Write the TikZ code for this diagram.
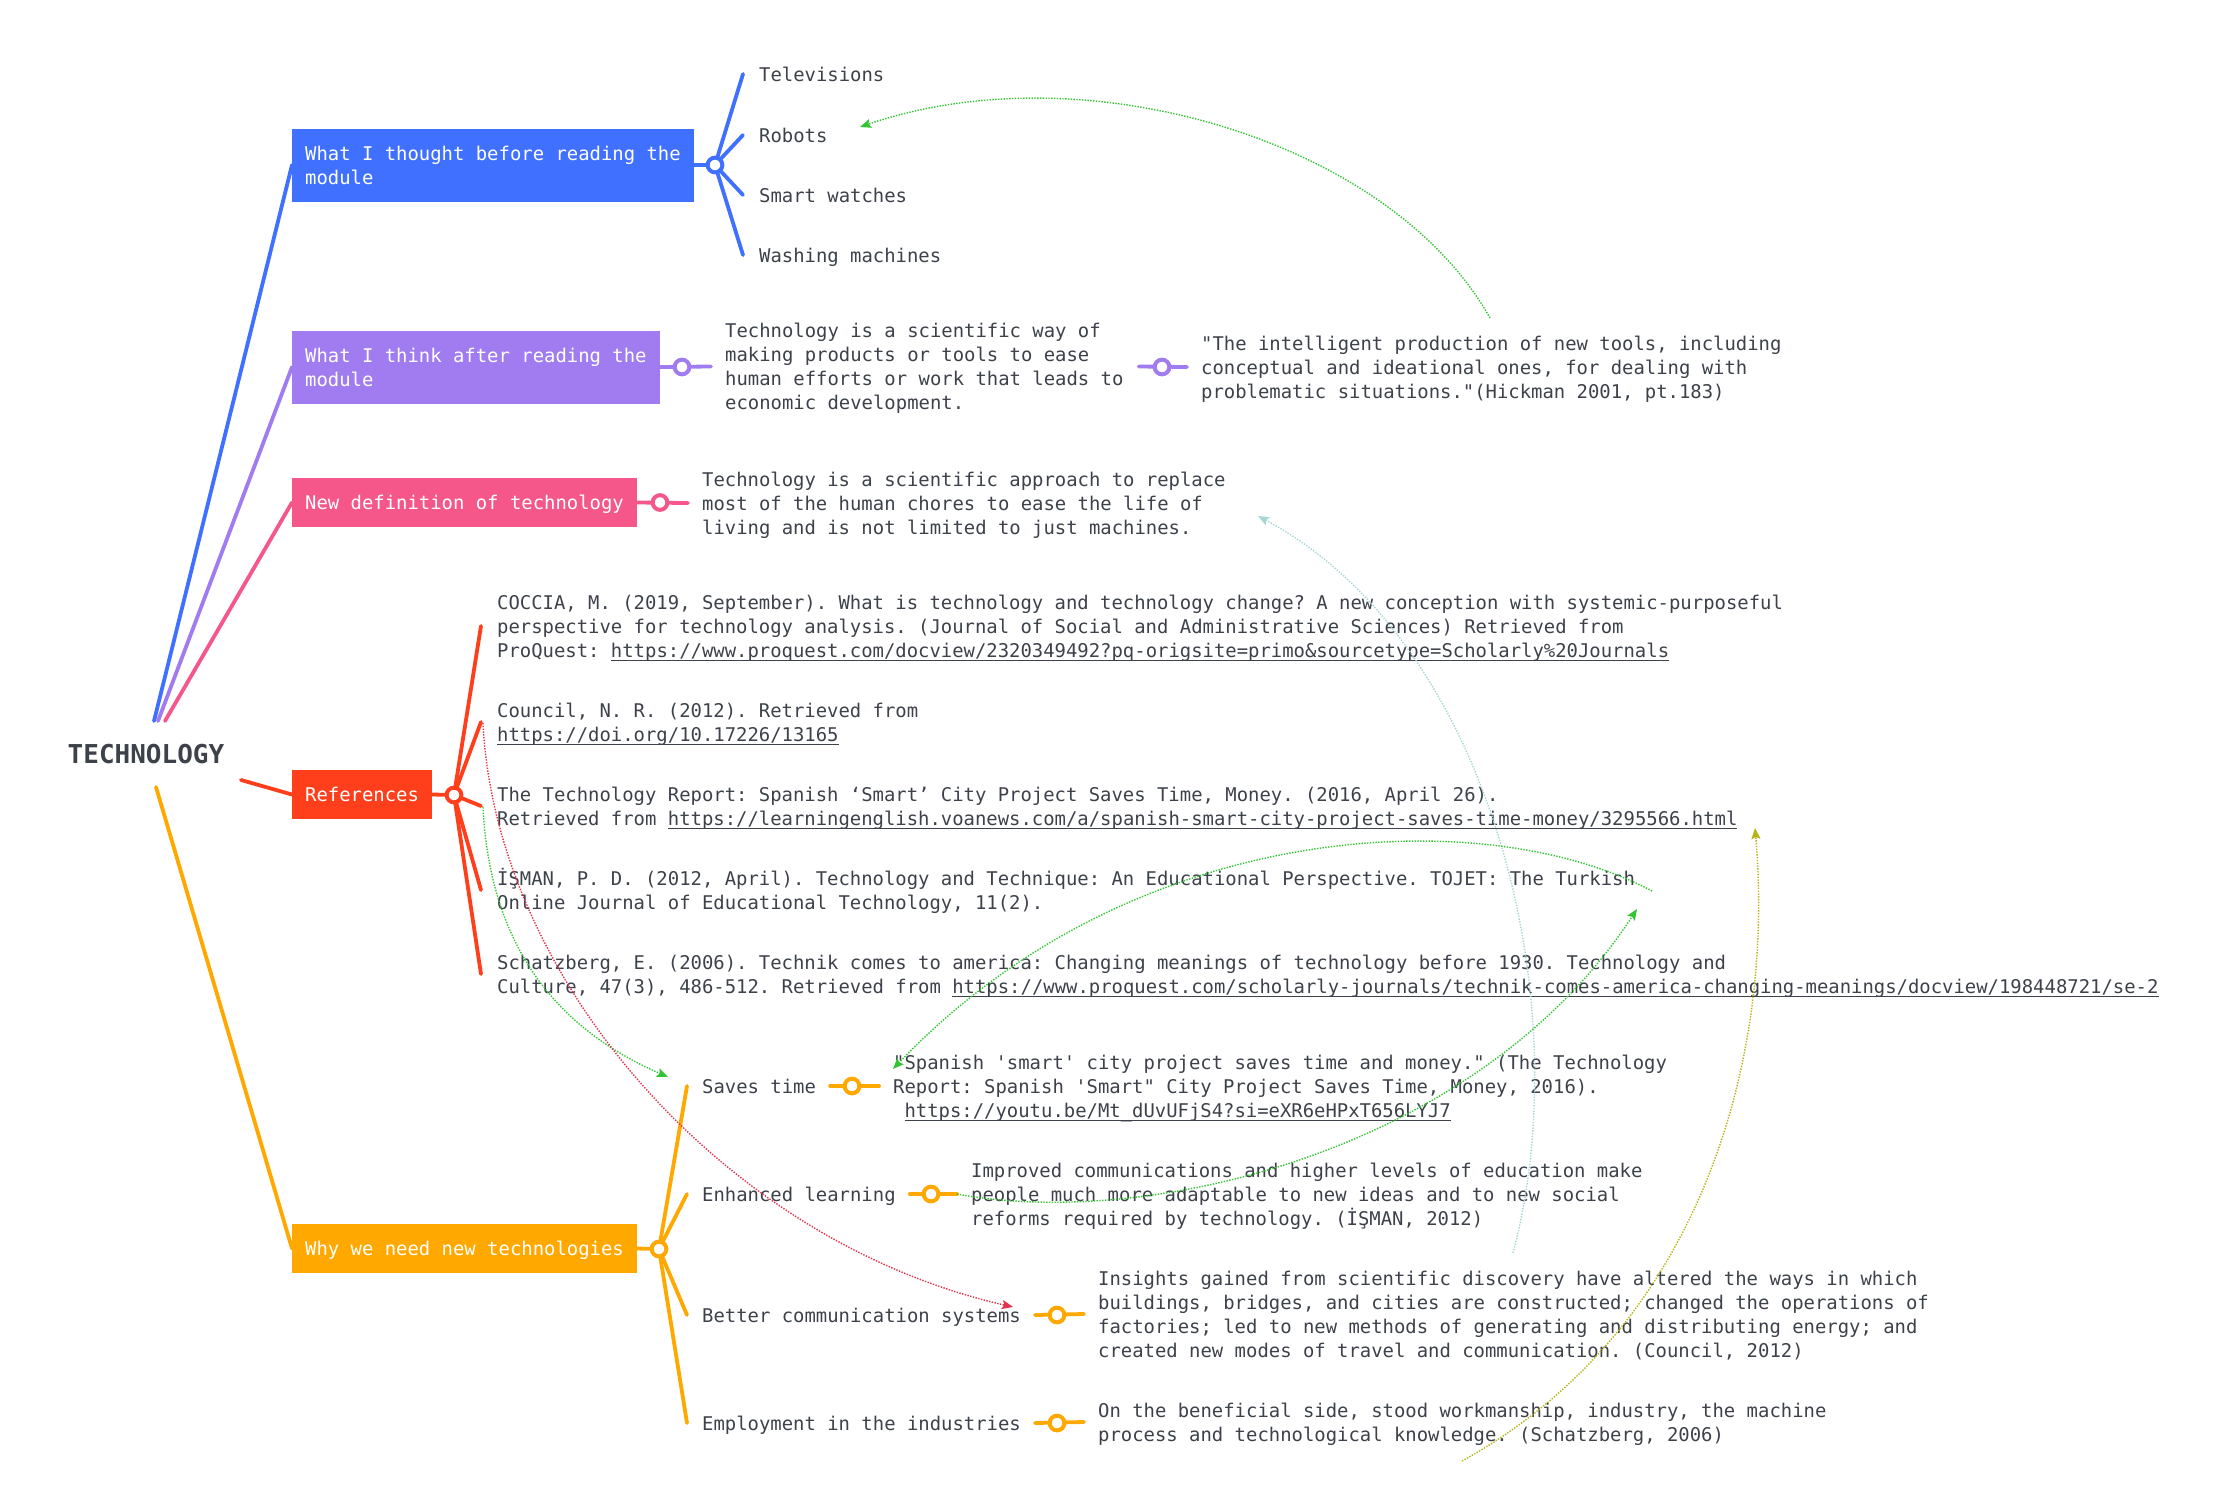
\documentclass[tikz,border=0pt]{standalone}
\usepackage{fontspec}
\newfontfamily\monof{DejaVu Sans Mono}
\usetikzlibrary{arrows.meta}
\definecolor{textc}{HTML}{3D424A}
\definecolor{cblue}{HTML}{4070FF}
\definecolor{cpurple}{HTML}{A07CF0}
\definecolor{cpink}{HTML}{F5578A}
\definecolor{cred}{HTML}{FF3F1C}
\definecolor{corange}{HTML}{FFA800}
\definecolor{cgreen}{HTML}{33C433}
\definecolor{cteal}{HTML}{A8D6D6}
\definecolor{crel}{HTML}{E2324C}
\definecolor{colive}{HTML}{B4B418}
\newcommand\lnk[1]{\setbox0=\hbox{#1}\rlap{\rule[-3.5pt]{\wd0}{1.3pt}}\box0}
\newcommand\mystrutfix{\setbox\strutbox=\hbox{\vrule height 19.4pt depth 4.6pt width 0pt}}
\begin{document}
\begin{tikzpicture}[x=1pt,y=-1pt,
  tx/.style={anchor=west, inner sep=0pt, align=left, text=textc,
    font=\monof\fontsize{18.9}{24}\selectfont\mystrutfix\frenchspacing},
  box/.style={anchor=west, inner xsep=13pt, inner ysep=12.5pt, align=left, text=white,
    font=\monof\fontsize{18.9}{24}\selectfont\mystrutfix\frenchspacing},
  br/.style={line width=3.8pt, line cap=round},
  knob/.style={circle, draw, line width=4pt, fill=white, minimum size=14.7pt, inner sep=0pt},
  rel/.style={dash pattern=on 1.4pt off 1.4pt, line width=1.4pt, -{Stealth[length=11pt,width=9pt,inset=2pt]}},
]
\useasboundingbox (0,0) rectangle (2224,1510);

% root
\node[font=\monof\bfseries\fontsize{26}{30}\selectfont, text=textc, inner sep=0pt] (root) at (146,754) {TECHNOLOGY};
\coordinate (rb) at (154,721);
\coordinate (rp) at (158,721);
\coordinate (rk) at (165,721);
\coordinate (rr) at (241,780);
\coordinate (ro) at (156,787);

% main boxes
\node[box, fill=cblue] (b1) at (292,165) {\strut What I thought before reading the\\\strut module};
\node[box, fill=cpurple] (b2) at (292,367) {\strut What I think after reading the\\\strut module};
\node[box, fill=cpink] (b3) at (292,502.5) {\strut New definition of technology};
\node[box, fill=cred] (b4) at (292,794.5) {\strut References};
\node[box, fill=corange] (b5) at (292,1248.5) {\strut Why we need new technologies};

\draw[br,cblue] (rb) -- (b1.west);
\draw[br,cpurple] (rp) -- (b2.west);
\draw[br,cpink] (rk) -- (b3.west);
\draw[br,cred] (rr) -- (b4.west);
\draw[br,corange] (ro) -- (b5.west);

% blue children
\node[tx] (t1) at (759,74) {\strut Televisions};
\node[tx] (t2) at (759,135) {\strut Robots};
\node[tx] (t3) at (759,195) {\strut Smart watches};
\node[tx] (t4) at (759,255) {\strut Washing machines};
\coordinate (k1) at (715,165);
\draw[br,cblue] (b1.east) -- (k1);
\foreach \t in {t1,t2,t3,t4} \draw[br,cblue] (k1) -- ([xshift=-16pt]\t.west);
\node[knob, draw=cblue] at (k1) {};

% purple children
\node[tx] (p1) at (725,366.5) {\strut Technology is a scientific way of\\\strut making products or tools to ease\\\strut human efforts or work that leads to\\\strut economic development.};
\node[tx] (p2) at (1201,367) {\strut "The intelligent production of new tools, including\\\strut conceptual and ideational ones, for dealing with\\\strut problematic situations."(Hickman 2001, pt.183)};
\coordinate (k2) at (682,367);
\draw[br,cpurple] (b2.east) -- ([xshift=-14pt]p1.west);
\node[knob, draw=cpurple] at (k2) {};
\coordinate (k3) at (1162,367);
\draw[br,cpurple] ([xshift=15pt]p1.east) -- ([xshift=-14pt]p2.west);
\node[knob, draw=cpurple] at (k3) {};

% pink child
\node[tx] (q1) at (702,503) {\strut Technology is a scientific approach to replace\\\strut most of the human chores to ease the life of\\\strut living and is not limited to just machines.};
\coordinate (k4) at (660,502.5);
\draw[br,cpink] (b3.east) -- ([xshift=-14pt]q1.west);
\node[knob, draw=cpink] at (k4) {};

% references
\node[tx] (r1) at (497,626) {\strut COCCIA, M. (2019, September). What is technology and technology change? A new conception with systemic-purposeful\\\strut perspective for technology analysis. (Journal of Social and Administrative Sciences) Retrieved from\\\strut ProQuest: \lnk{https://www.proquest.com/docview/2320349492?pq-origsite=primo\&sourcetype=Scholarly\%20Journals}};
\node[tx] (r2) at (497,722) {\strut Council, N. R. (2012). Retrieved from\\\strut\lnk{https://doi.org/10.17226/13165}};
\node[tx] (r3) at (497,806) {\strut The Technology Report: Spanish ‘Smart’ City Project Saves Time, Money. (2016, April 26).\\\strut Retrieved from \lnk{https://learningenglish.voanews.com/a/spanish-smart-city-project-saves-time-money/3295566.html}};
\node[tx] (r4) at (497,890) {\strut İŞMAN, P. D. (2012, April). Technology and Technique: An Educational Perspective. TOJET: The Turkish\\\strut Online Journal of Educational Technology, 11(2).};
\node[tx] (r5) at (497,974) {\strut Schatzberg, E. (2006). Technik comes to america: Changing meanings of technology before 1930. Technology and\\\strut Culture, 47(3), 486-512. Retrieved from \lnk{https://www.proquest.com/scholarly-journals/technik-comes-america-changing-meanings/docview/198448721/se-2}};
\coordinate (k5) at (454,795);
\draw[br,cred] (b4.east) -- (k5);
\foreach \t in {r1,r2,r3,r4,r5} \draw[br,cred] (k5) -- ([xshift=-16pt]\t.west);
\node[knob, draw=cred] at (k5) {};

% orange children
\node[tx] (o1) at (702,1086) {\strut Saves time};
\node[tx] (o2) at (702,1194) {\strut Enhanced learning};
\node[tx] (o3) at (702,1315) {\strut Better communication systems};
\node[tx] (o4) at (702,1423) {\strut Employment in the industries};
\coordinate (k6) at (659,1249);
\draw[br,corange] (b5.east) -- (k6);
\foreach \t in {o1,o2,o3,o4} \draw[br,corange] (k6) -- ([xshift=-15pt]\t.west);
\node[knob, draw=corange] at (k6) {};

\node[tx] (s1) at (893,1086) {\strut "Spanish 'smart' city project saves time and money." (The Technology\\\strut Report: Spanish 'Smart" City Project Saves Time, Money, 2016).\\\strut\ \lnk{https://youtu.be/Mt\_dUvUFjS4?si=eXR6eHPxT656LYJ7}};
\node[tx] (s2) at (971,1194) {\strut Improved communications and higher levels of education make\\\strut people much more adaptable to new ideas and to new social\\\strut reforms required by technology. (İŞMAN, 2012)};
\node[tx] (s3) at (1098,1314) {\strut Insights gained from scientific discovery have altered the ways in which\\\strut buildings, bridges, and cities are constructed; changed the operations of\\\strut factories; led to new methods of generating and distributing energy; and\\\strut created new modes of travel and communication. (Council, 2012)};
\node[tx] (s4) at (1098,1422) {\strut On the beneficial side, stood workmanship, industry, the machine\\\strut process and technological knowledge. (Schatzberg, 2006)};

\draw[br,corange] ([xshift=14pt]o1.east) -- ([xshift=-14pt]s1.west);
\node[knob, draw=corange] at (852,1086) {};
\draw[br,corange] ([xshift=14pt]o2.east) -- ([xshift=-14pt]s2.west);
\node[knob, draw=corange] at (931,1194) {};
\draw[br,corange] ([xshift=14pt]o3.east) -- ([xshift=-14pt]s3.west);
\node[knob, draw=corange] at (1057,1315) {};
\draw[br,corange] ([xshift=14pt]o4.east) -- ([xshift=-14pt]s4.west);
\node[knob, draw=corange] at (1057,1423) {};

% relation curves
\coordinate (g1s) at (1490,318);
\coordinate (g1e) at (860,127);
\draw[rel,cgreen] (g1s) .. controls (1390,140) and (1085,50) .. (g1e);

\coordinate (tls) at (1513,1253);
\coordinate (tle) at (1258,516);
\draw[rel,cteal] (tls) .. controls (1580,1000) and (1490,640) .. (tle);

\coordinate (g3s) at (1652,891);
\coordinate (g3e) at (893,1069);
\draw[rel,cgreen] (g3s) .. controls (1480,800) and (1130,820) .. (g3e);

\coordinate (g4s) at (957,1194);
\coordinate (g4e) at (1637,909);
\draw[rel,cgreen] (g4s) .. controls (1150,1230) and (1480,1150) .. (g4e);

\coordinate (g5s) at (483,807);
\coordinate (g5e) at (668,1077);
\draw[rel,cgreen] (g5s) .. controls (490,950) and (560,1030) .. (g5e);

\coordinate (rds) at (483,723);
\coordinate (rde) at (1013,1307);
\draw[rel,crel] (rds) .. controls (495,975) and (720,1240) .. (rde);

\coordinate (ols) at (1462,1461);
\coordinate (ole) at (1755,828);
\draw[rel,colive] (ols) .. controls (1700,1330) and (1775,1060) .. (ole);
\end{tikzpicture}
\end{document}
